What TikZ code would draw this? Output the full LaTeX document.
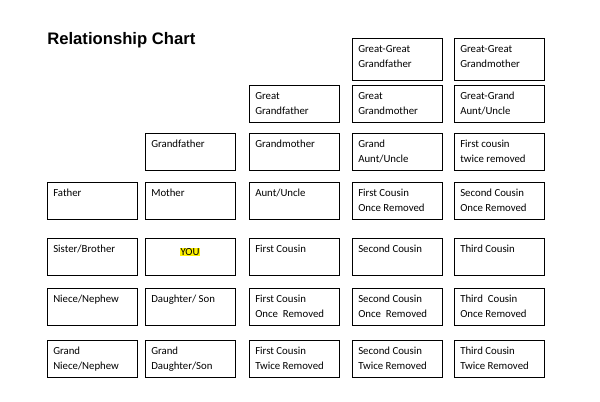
\documentclass[tikz,border=0pt]{standalone}
\usepackage{fontspec}
\setmainfont{Carlito}
\newfontfamily\titlefont{Liberation Sans}
\begin{document}
\begin{tikzpicture}[x=0.75pt,y=-0.75pt,
  cell/.style={draw=black,line width=0.6pt,minimum width=67.5pt,minimum height=27.75pt,inner sep=0pt},
  lbl/.style={anchor=north west,align=left,font=\fontsize{8.1}{11.2}\selectfont,inner sep=0pt}]
\useasboundingbox (0,0) rectangle (600,402);
\node[anchor=west,font=\titlefont\bfseries\fontsize{12.5}{14}\selectfont,inner sep=0pt] (title) at (47,40) {Relationship Chart};
\newcommand\cellbox[5]{% name, col x, row top, row h, text
  \node[cell,minimum height=#4*0.75pt] (#1) at (#2,#3+#4/2) {};
  \node[lbl] (#1t) at (#2-39,#3+7) {#5};}
% row 0
\cellbox{ggf}{397}{38}{42}{Great-Great\\Grandfather}
\cellbox{ggm}{499}{38}{42}{Great-Great\\Grandmother}
% row 1
\cellbox{gf3}{294}{85}{37}{Great\\Grandfather}
\cellbox{gm4}{397}{85}{37}{Great\\Grandmother}
\cellbox{gga}{499}{85}{37}{Great-Grand\\Aunt/Uncle}
% row 2
\cellbox{gf}{190}{133}{37}{Grandfather}
\cellbox{gm}{294}{133}{37}{Grandmother}
\cellbox{ga}{397}{133}{37}{Grand\\Aunt/Uncle}
\cellbox{fc2}{499}{133}{37}{First cousin\\twice removed}
% row 3
\cellbox{fa}{92}{182}{37}{Father}
\cellbox{mo}{190}{182}{37}{Mother}
\cellbox{au}{294}{182}{37}{Aunt/Uncle}
\cellbox{fc1r}{397}{182}{37}{First Cousin\\Once Removed}
\cellbox{sc1r}{499}{182}{37}{Second Cousin\\Once Removed}
% row 4
\cellbox{sb}{92}{238}{37}{Sister/Brother}
\node[cell,minimum height=27.75pt] (you) at (190,256.5) {};
\node[fill=yellow,inner sep=0.5pt,font=\fontsize{8.1}{11}\selectfont] (yout) at (190,252) {YOU};
\cellbox{fc}{294}{238}{37}{First Cousin}
\cellbox{sc}{397}{238}{37}{Second Cousin}
\cellbox{tc}{499}{238}{37}{Third Cousin}
% row 5
\cellbox{nn}{92}{288}{37}{Niece/Nephew}
\cellbox{ds}{190}{288}{37}{Daughter/ Son}
\cellbox{fco}{294}{288}{37}{First Cousin\\Once\ \ Removed}
\cellbox{sco}{397}{288}{37}{Second Cousin\\Once\ \ Removed}
\cellbox{tco}{499}{288}{37}{Third\ \ Cousin\\Once Removed}
% row 6
\cellbox{gnn}{92}{340}{37}{Grand\\Niece/Nephew}
\cellbox{gds}{190}{340}{37}{Grand\\Daughter/Son}
\cellbox{fct}{294}{340}{37}{First Cousin\\Twice Removed}
\cellbox{sct}{397}{340}{37}{Second Cousin\\Twice Removed}
\cellbox{tct}{499}{340}{37}{Third Cousin\\Twice Removed}
\end{tikzpicture}
\end{document}
